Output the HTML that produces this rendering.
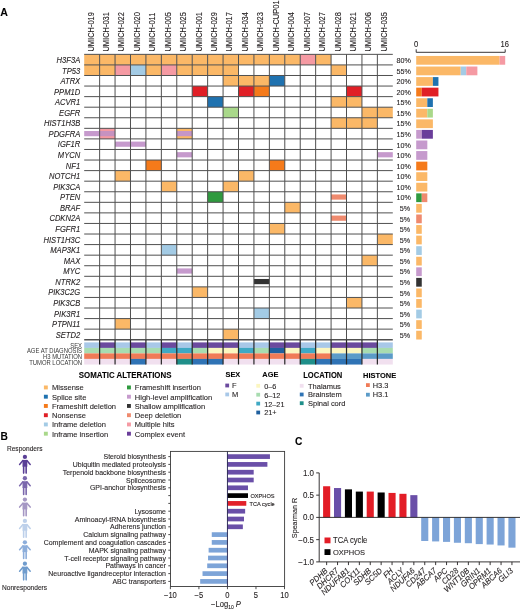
<!DOCTYPE html>
<html><head><meta charset="utf-8"><style>
html,body{margin:0;padding:0;background:#fff;width:520px;height:611px;overflow:hidden}
svg{display:block;filter:blur(0.3px)}
text{font-family:"Liberation Sans",sans-serif;stroke:#231f20;stroke-width:0.1px}
</style></head><body>
<svg width="520" height="611" viewBox="0 0 520 611">
<text transform="translate(0.30,15.90) scale(1,1.07)" font-size="10.6" text-anchor="start" fill="#000" font-weight="bold" >A</text>
<text transform="translate(93.62,51.6) rotate(-90) scale(1,1.12)" font-size="7.5" fill="#231f20">UMICH-019</text>
<text transform="translate(109.05,51.6) rotate(-90) scale(1,1.12)" font-size="7.5" fill="#231f20">UMICH-031</text>
<text transform="translate(124.48,51.6) rotate(-90) scale(1,1.12)" font-size="7.5" fill="#231f20">UMICH-022</text>
<text transform="translate(139.90,51.6) rotate(-90) scale(1,1.12)" font-size="7.5" fill="#231f20">UMICH-020</text>
<text transform="translate(155.33,51.6) rotate(-90) scale(1,1.12)" font-size="7.5" fill="#231f20">UMICH-011</text>
<text transform="translate(170.76,51.6) rotate(-90) scale(1,1.12)" font-size="7.5" fill="#231f20">UMICH-005</text>
<text transform="translate(186.19,51.6) rotate(-90) scale(1,1.12)" font-size="7.5" fill="#231f20">UMICH-025</text>
<text transform="translate(201.62,51.6) rotate(-90) scale(1,1.12)" font-size="7.5" fill="#231f20">UMICH-001</text>
<text transform="translate(217.06,51.6) rotate(-90) scale(1,1.12)" font-size="7.5" fill="#231f20">UMICH-029</text>
<text transform="translate(232.49,51.6) rotate(-90) scale(1,1.12)" font-size="7.5" fill="#231f20">UMICH-017</text>
<text transform="translate(247.91,51.6) rotate(-90) scale(1,1.12)" font-size="7.5" fill="#231f20">UMICH-034</text>
<text transform="translate(263.34,51.6) rotate(-90) scale(1,1.12)" font-size="7.5" fill="#231f20">UMICH-023</text>
<text transform="translate(278.77,51.6) rotate(-90) scale(1,1.12)" font-size="7.5" fill="#231f20">UMICH-CUP01</text>
<text transform="translate(294.20,51.6) rotate(-90) scale(1,1.12)" font-size="7.5" fill="#231f20">UMICH-004</text>
<text transform="translate(309.63,51.6) rotate(-90) scale(1,1.12)" font-size="7.5" fill="#231f20">UMICH-007</text>
<text transform="translate(325.06,51.6) rotate(-90) scale(1,1.12)" font-size="7.5" fill="#231f20">UMICH-027</text>
<text transform="translate(340.50,51.6) rotate(-90) scale(1,1.12)" font-size="7.5" fill="#231f20">UMICH-028</text>
<text transform="translate(355.92,51.6) rotate(-90) scale(1,1.12)" font-size="7.5" fill="#231f20">UMICH-021</text>
<text transform="translate(371.35,51.6) rotate(-90) scale(1,1.12)" font-size="7.5" fill="#231f20">UMICH-006</text>
<text transform="translate(386.78,51.6) rotate(-90) scale(1,1.12)" font-size="7.5" fill="#231f20">UMICH-035</text>
<text transform="translate(80.20,62.93) scale(1,1.07)" font-size="7.6" text-anchor="end" fill="#231f20" font-style="italic" >H3F3A</text>
<text transform="translate(411.00,63.03) scale(1,1.07)" font-size="7.2" text-anchor="end" fill="#231f20"  >80%</text>
<text transform="translate(80.20,73.50) scale(1,1.07)" font-size="7.6" text-anchor="end" fill="#231f20" font-style="italic" >TP53</text>
<text transform="translate(411.00,73.60) scale(1,1.07)" font-size="7.2" text-anchor="end" fill="#231f20"  >55%</text>
<text transform="translate(80.20,84.07) scale(1,1.07)" font-size="7.6" text-anchor="end" fill="#231f20" font-style="italic" >ATRX</text>
<text transform="translate(411.00,84.17) scale(1,1.07)" font-size="7.2" text-anchor="end" fill="#231f20"  >20%</text>
<text transform="translate(80.20,94.64) scale(1,1.07)" font-size="7.6" text-anchor="end" fill="#231f20" font-style="italic" >PPM1D</text>
<text transform="translate(411.00,94.74) scale(1,1.07)" font-size="7.2" text-anchor="end" fill="#231f20"  >20%</text>
<text transform="translate(80.20,105.21) scale(1,1.07)" font-size="7.6" text-anchor="end" fill="#231f20" font-style="italic" >ACVR1</text>
<text transform="translate(411.00,105.31) scale(1,1.07)" font-size="7.2" text-anchor="end" fill="#231f20"  >15%</text>
<text transform="translate(80.20,115.78) scale(1,1.07)" font-size="7.6" text-anchor="end" fill="#231f20" font-style="italic" >EGFR</text>
<text transform="translate(411.00,115.88) scale(1,1.07)" font-size="7.2" text-anchor="end" fill="#231f20"  >15%</text>
<text transform="translate(80.20,126.35) scale(1,1.07)" font-size="7.6" text-anchor="end" fill="#231f20" font-style="italic" >HIST1H3B</text>
<text transform="translate(411.00,126.45) scale(1,1.07)" font-size="7.2" text-anchor="end" fill="#231f20"  >15%</text>
<text transform="translate(80.20,136.92) scale(1,1.07)" font-size="7.6" text-anchor="end" fill="#231f20" font-style="italic" >PDGFRA</text>
<text transform="translate(411.00,137.02) scale(1,1.07)" font-size="7.2" text-anchor="end" fill="#231f20"  >15%</text>
<text transform="translate(80.20,147.49) scale(1,1.07)" font-size="7.6" text-anchor="end" fill="#231f20" font-style="italic" >IGF1R</text>
<text transform="translate(411.00,147.59) scale(1,1.07)" font-size="7.2" text-anchor="end" fill="#231f20"  >10%</text>
<text transform="translate(80.20,158.06) scale(1,1.07)" font-size="7.6" text-anchor="end" fill="#231f20" font-style="italic" >MYCN</text>
<text transform="translate(411.00,158.16) scale(1,1.07)" font-size="7.2" text-anchor="end" fill="#231f20"  >10%</text>
<text transform="translate(80.20,168.62) scale(1,1.07)" font-size="7.6" text-anchor="end" fill="#231f20" font-style="italic" >NF1</text>
<text transform="translate(411.00,168.72) scale(1,1.07)" font-size="7.2" text-anchor="end" fill="#231f20"  >10%</text>
<text transform="translate(80.20,179.19) scale(1,1.07)" font-size="7.6" text-anchor="end" fill="#231f20" font-style="italic" >NOTCH1</text>
<text transform="translate(411.00,179.29) scale(1,1.07)" font-size="7.2" text-anchor="end" fill="#231f20"  >10%</text>
<text transform="translate(80.20,189.76) scale(1,1.07)" font-size="7.6" text-anchor="end" fill="#231f20" font-style="italic" >PIK3CA</text>
<text transform="translate(411.00,189.86) scale(1,1.07)" font-size="7.2" text-anchor="end" fill="#231f20"  >10%</text>
<text transform="translate(80.20,200.33) scale(1,1.07)" font-size="7.6" text-anchor="end" fill="#231f20" font-style="italic" >PTEN</text>
<text transform="translate(411.00,200.43) scale(1,1.07)" font-size="7.2" text-anchor="end" fill="#231f20"  >10%</text>
<text transform="translate(80.20,210.90) scale(1,1.07)" font-size="7.6" text-anchor="end" fill="#231f20" font-style="italic" >BRAF</text>
<text transform="translate(410.20,211.00) scale(1,1.07)" font-size="7.2" text-anchor="end" fill="#231f20"  >5%</text>
<text transform="translate(80.20,221.47) scale(1,1.07)" font-size="7.6" text-anchor="end" fill="#231f20" font-style="italic" >CDKN2A</text>
<text transform="translate(410.20,221.57) scale(1,1.07)" font-size="7.2" text-anchor="end" fill="#231f20"  >5%</text>
<text transform="translate(80.20,232.04) scale(1,1.07)" font-size="7.6" text-anchor="end" fill="#231f20" font-style="italic" >FGFR1</text>
<text transform="translate(410.20,232.14) scale(1,1.07)" font-size="7.2" text-anchor="end" fill="#231f20"  >5%</text>
<text transform="translate(80.20,242.61) scale(1,1.07)" font-size="7.6" text-anchor="end" fill="#231f20" font-style="italic" >HIST1H3C</text>
<text transform="translate(410.20,242.71) scale(1,1.07)" font-size="7.2" text-anchor="end" fill="#231f20"  >5%</text>
<text transform="translate(80.20,253.18) scale(1,1.07)" font-size="7.6" text-anchor="end" fill="#231f20" font-style="italic" >MAP3K1</text>
<text transform="translate(410.20,253.28) scale(1,1.07)" font-size="7.2" text-anchor="end" fill="#231f20"  >5%</text>
<text transform="translate(80.20,263.75) scale(1,1.07)" font-size="7.6" text-anchor="end" fill="#231f20" font-style="italic" >MAX</text>
<text transform="translate(410.20,263.85) scale(1,1.07)" font-size="7.2" text-anchor="end" fill="#231f20"  >5%</text>
<text transform="translate(80.20,274.31) scale(1,1.07)" font-size="7.6" text-anchor="end" fill="#231f20" font-style="italic" >MYC</text>
<text transform="translate(410.20,274.41) scale(1,1.07)" font-size="7.2" text-anchor="end" fill="#231f20"  >5%</text>
<text transform="translate(80.20,284.88) scale(1,1.07)" font-size="7.6" text-anchor="end" fill="#231f20" font-style="italic" >NTRK2</text>
<text transform="translate(410.20,284.98) scale(1,1.07)" font-size="7.2" text-anchor="end" fill="#231f20"  >5%</text>
<text transform="translate(80.20,295.45) scale(1,1.07)" font-size="7.6" text-anchor="end" fill="#231f20" font-style="italic" >PIK3C2G</text>
<text transform="translate(410.20,295.55) scale(1,1.07)" font-size="7.2" text-anchor="end" fill="#231f20"  >5%</text>
<text transform="translate(80.20,306.02) scale(1,1.07)" font-size="7.6" text-anchor="end" fill="#231f20" font-style="italic" >PIK3CB</text>
<text transform="translate(410.20,306.12) scale(1,1.07)" font-size="7.2" text-anchor="end" fill="#231f20"  >5%</text>
<text transform="translate(80.20,316.59) scale(1,1.07)" font-size="7.6" text-anchor="end" fill="#231f20" font-style="italic" >PIK3R1</text>
<text transform="translate(410.20,316.69) scale(1,1.07)" font-size="7.2" text-anchor="end" fill="#231f20"  >5%</text>
<text transform="translate(80.20,327.16) scale(1,1.07)" font-size="7.6" text-anchor="end" fill="#231f20" font-style="italic" >PTPN11</text>
<text transform="translate(410.20,327.26) scale(1,1.07)" font-size="7.2" text-anchor="end" fill="#231f20"  >5%</text>
<text transform="translate(80.20,337.73) scale(1,1.07)" font-size="7.6" text-anchor="end" fill="#231f20" font-style="italic" >SETD2</text>
<text transform="translate(410.20,337.83) scale(1,1.07)" font-size="7.2" text-anchor="end" fill="#231f20"  >5%</text>
<rect x="84.20" y="54.35" width="308.60" height="285.36" fill="#fff" />
<rect x="84.20" y="54.35" width="15.43" height="10.57" fill="#fbb867" />
<rect x="99.63" y="54.35" width="15.43" height="10.57" fill="#fbb867" />
<rect x="115.06" y="54.35" width="15.43" height="10.57" fill="#fbb867" />
<rect x="130.49" y="54.35" width="15.43" height="10.57" fill="#fbb867" />
<rect x="145.92" y="54.35" width="15.43" height="10.57" fill="#fbb867" />
<rect x="161.35" y="54.35" width="15.43" height="10.57" fill="#fbb867" />
<rect x="176.78" y="54.35" width="15.43" height="10.57" fill="#fbb867" />
<rect x="192.21" y="54.35" width="15.43" height="10.57" fill="#fbb867" />
<rect x="207.64" y="54.35" width="15.43" height="10.57" fill="#fbb867" />
<rect x="223.07" y="54.35" width="15.43" height="10.57" fill="#fbb867" />
<rect x="238.50" y="54.35" width="15.43" height="10.57" fill="#fbb867" />
<rect x="253.93" y="54.35" width="15.43" height="10.57" fill="#fbb867" />
<rect x="269.36" y="54.35" width="15.43" height="10.57" fill="#fbb867" />
<rect x="284.79" y="54.35" width="15.43" height="10.57" fill="#fbb867" />
<rect x="300.22" y="54.35" width="15.43" height="10.57" fill="#f59aa3" />
<rect x="315.65" y="54.35" width="15.43" height="10.57" fill="#fbb867" />
<rect x="84.20" y="64.92" width="15.43" height="10.57" fill="#fbb867" />
<rect x="99.63" y="64.92" width="15.43" height="10.57" fill="#fbb867" />
<rect x="145.92" y="64.92" width="15.43" height="10.57" fill="#fbb867" />
<rect x="176.78" y="64.92" width="15.43" height="10.57" fill="#fbb867" />
<rect x="192.21" y="64.92" width="15.43" height="10.57" fill="#fbb867" />
<rect x="207.64" y="64.92" width="15.43" height="10.57" fill="#fbb867" />
<rect x="223.07" y="64.92" width="15.43" height="10.57" fill="#fbb867" />
<rect x="331.08" y="64.92" width="15.43" height="10.57" fill="#fbb867" />
<rect x="115.06" y="64.92" width="15.43" height="10.57" fill="#f59aa3" />
<rect x="161.35" y="64.92" width="15.43" height="10.57" fill="#f59aa3" />
<rect x="130.49" y="64.92" width="15.43" height="10.57" fill="#a3cbe5" />
<rect x="223.07" y="75.49" width="15.43" height="10.57" fill="#fbb867" />
<rect x="238.50" y="75.49" width="15.43" height="10.57" fill="#fbb867" />
<rect x="253.93" y="75.49" width="15.43" height="10.57" fill="#fbb867" />
<rect x="269.36" y="75.49" width="15.43" height="10.57" fill="#1f72b0" />
<rect x="192.21" y="86.06" width="15.43" height="10.57" fill="#e01f26" />
<rect x="238.50" y="86.06" width="15.43" height="10.57" fill="#e01f26" />
<rect x="253.93" y="86.06" width="15.43" height="10.57" fill="#f57a1a" />
<rect x="346.51" y="86.06" width="15.43" height="10.57" fill="#e01f26" />
<rect x="207.64" y="96.63" width="15.43" height="10.57" fill="#1f72b0" />
<rect x="331.08" y="96.63" width="15.43" height="10.57" fill="#fbb867" />
<rect x="346.51" y="96.63" width="15.43" height="10.57" fill="#fbb867" />
<rect x="223.07" y="107.20" width="15.43" height="10.57" fill="#a9d88a" />
<rect x="361.94" y="107.20" width="15.43" height="10.57" fill="#fbb867" />
<rect x="377.37" y="107.20" width="15.43" height="10.57" fill="#fbb867" />
<rect x="331.08" y="117.76" width="15.43" height="10.57" fill="#fbb867" />
<rect x="346.51" y="117.76" width="15.43" height="10.57" fill="#fbb867" />
<rect x="361.94" y="117.76" width="15.43" height="10.57" fill="#fbb867" />
<rect x="99.63" y="128.33" width="15.43" height="10.57" fill="#f59aa3" />
<rect x="176.78" y="128.33" width="15.43" height="10.57" fill="#fbb867" />
<rect x="145.92" y="160.04" width="15.43" height="10.57" fill="#f57a1a" />
<rect x="269.36" y="160.04" width="15.43" height="10.57" fill="#f57a1a" />
<rect x="115.06" y="170.61" width="15.43" height="10.57" fill="#fbb867" />
<rect x="238.50" y="170.61" width="15.43" height="10.57" fill="#fbb867" />
<rect x="161.35" y="181.18" width="15.43" height="10.57" fill="#fbb867" />
<rect x="223.07" y="181.18" width="15.43" height="10.57" fill="#fbb867" />
<rect x="207.64" y="191.75" width="15.43" height="10.57" fill="#2f9a3f" />
<rect x="284.79" y="202.32" width="15.43" height="10.57" fill="#fbb867" />
<rect x="269.36" y="223.45" width="15.43" height="10.57" fill="#fbb867" />
<rect x="377.37" y="234.02" width="15.43" height="10.57" fill="#fbb867" />
<rect x="161.35" y="244.59" width="15.43" height="10.57" fill="#a3cbe5" />
<rect x="361.94" y="255.16" width="15.43" height="10.57" fill="#fbb867" />
<rect x="192.21" y="286.87" width="15.43" height="10.57" fill="#fbb867" />
<rect x="346.51" y="297.44" width="15.43" height="10.57" fill="#fbb867" />
<rect x="253.93" y="308.01" width="15.43" height="10.57" fill="#a3cbe5" />
<rect x="115.06" y="318.58" width="15.43" height="10.57" fill="#fbb867" />
<rect x="223.07" y="329.14" width="15.43" height="10.57" fill="#fbb867" />
<rect x="84.20" y="131.02" width="15.43" height="5.20" fill="#c69acd" />
<rect x="99.63" y="131.02" width="15.43" height="5.20" fill="#c792c0" />
<rect x="176.78" y="131.02" width="15.43" height="5.20" fill="#c596c6" />
<rect x="115.06" y="141.59" width="15.43" height="5.20" fill="#c69acd" />
<rect x="130.49" y="141.59" width="15.43" height="5.20" fill="#c69acd" />
<rect x="176.78" y="152.16" width="15.43" height="5.20" fill="#c69acd" />
<rect x="377.37" y="152.16" width="15.43" height="5.20" fill="#c69acd" />
<rect x="331.08" y="194.43" width="15.43" height="5.20" fill="#ef8a6e" />
<rect x="331.08" y="215.57" width="15.43" height="5.20" fill="#ef8a6e" />
<rect x="176.78" y="268.41" width="15.43" height="5.20" fill="#c69acd" />
<rect x="253.93" y="278.98" width="15.43" height="5.20" fill="#333333" />
<line x1="84.20" y1="54.35" x2="392.80" y2="54.35" stroke="#505050" stroke-width="1.0"/>
<line x1="84.20" y1="64.92" x2="392.80" y2="64.92" stroke="#505050" stroke-width="1.0"/>
<line x1="84.20" y1="75.49" x2="392.80" y2="75.49" stroke="#505050" stroke-width="1.0"/>
<line x1="84.20" y1="86.06" x2="392.80" y2="86.06" stroke="#505050" stroke-width="1.0"/>
<line x1="84.20" y1="96.63" x2="392.80" y2="96.63" stroke="#505050" stroke-width="1.0"/>
<line x1="84.20" y1="107.20" x2="392.80" y2="107.20" stroke="#505050" stroke-width="1.0"/>
<line x1="84.20" y1="117.76" x2="392.80" y2="117.76" stroke="#505050" stroke-width="1.0"/>
<line x1="84.20" y1="128.33" x2="392.80" y2="128.33" stroke="#505050" stroke-width="1.0"/>
<line x1="84.20" y1="138.90" x2="392.80" y2="138.90" stroke="#505050" stroke-width="1.0"/>
<line x1="84.20" y1="149.47" x2="392.80" y2="149.47" stroke="#505050" stroke-width="1.0"/>
<line x1="84.20" y1="160.04" x2="392.80" y2="160.04" stroke="#505050" stroke-width="1.0"/>
<line x1="84.20" y1="170.61" x2="392.80" y2="170.61" stroke="#505050" stroke-width="1.0"/>
<line x1="84.20" y1="181.18" x2="392.80" y2="181.18" stroke="#505050" stroke-width="1.0"/>
<line x1="84.20" y1="191.75" x2="392.80" y2="191.75" stroke="#505050" stroke-width="1.0"/>
<line x1="84.20" y1="202.32" x2="392.80" y2="202.32" stroke="#505050" stroke-width="1.0"/>
<line x1="84.20" y1="212.89" x2="392.80" y2="212.89" stroke="#505050" stroke-width="1.0"/>
<line x1="84.20" y1="223.45" x2="392.80" y2="223.45" stroke="#505050" stroke-width="1.0"/>
<line x1="84.20" y1="234.02" x2="392.80" y2="234.02" stroke="#505050" stroke-width="1.0"/>
<line x1="84.20" y1="244.59" x2="392.80" y2="244.59" stroke="#505050" stroke-width="1.0"/>
<line x1="84.20" y1="255.16" x2="392.80" y2="255.16" stroke="#505050" stroke-width="1.0"/>
<line x1="84.20" y1="265.73" x2="392.80" y2="265.73" stroke="#505050" stroke-width="1.0"/>
<line x1="84.20" y1="276.30" x2="392.80" y2="276.30" stroke="#505050" stroke-width="1.0"/>
<line x1="84.20" y1="286.87" x2="392.80" y2="286.87" stroke="#505050" stroke-width="1.0"/>
<line x1="84.20" y1="297.44" x2="392.80" y2="297.44" stroke="#505050" stroke-width="1.0"/>
<line x1="84.20" y1="308.01" x2="392.80" y2="308.01" stroke="#505050" stroke-width="1.0"/>
<line x1="84.20" y1="318.58" x2="392.80" y2="318.58" stroke="#505050" stroke-width="1.0"/>
<line x1="84.20" y1="329.14" x2="392.80" y2="329.14" stroke="#505050" stroke-width="1.0"/>
<line x1="84.20" y1="339.71" x2="392.80" y2="339.71" stroke="#505050" stroke-width="1.5"/>
<line x1="99.63" y1="54.35" x2="99.63" y2="339.71" stroke="#505050" stroke-width="1.0"/>
<line x1="115.06" y1="54.35" x2="115.06" y2="339.71" stroke="#505050" stroke-width="1.0"/>
<line x1="130.49" y1="54.35" x2="130.49" y2="339.71" stroke="#505050" stroke-width="1.0"/>
<line x1="145.92" y1="54.35" x2="145.92" y2="339.71" stroke="#505050" stroke-width="1.0"/>
<line x1="161.35" y1="54.35" x2="161.35" y2="339.71" stroke="#505050" stroke-width="1.0"/>
<line x1="176.78" y1="54.35" x2="176.78" y2="339.71" stroke="#505050" stroke-width="1.0"/>
<line x1="192.21" y1="54.35" x2="192.21" y2="339.71" stroke="#505050" stroke-width="1.0"/>
<line x1="207.64" y1="54.35" x2="207.64" y2="339.71" stroke="#505050" stroke-width="1.0"/>
<line x1="223.07" y1="54.35" x2="223.07" y2="339.71" stroke="#505050" stroke-width="1.0"/>
<line x1="238.50" y1="54.35" x2="238.50" y2="339.71" stroke="#505050" stroke-width="1.0"/>
<line x1="253.93" y1="54.35" x2="253.93" y2="339.71" stroke="#505050" stroke-width="1.0"/>
<line x1="269.36" y1="54.35" x2="269.36" y2="339.71" stroke="#505050" stroke-width="1.0"/>
<line x1="284.79" y1="54.35" x2="284.79" y2="339.71" stroke="#505050" stroke-width="1.0"/>
<line x1="300.22" y1="54.35" x2="300.22" y2="339.71" stroke="#505050" stroke-width="1.0"/>
<line x1="315.65" y1="54.35" x2="315.65" y2="339.71" stroke="#505050" stroke-width="1.0"/>
<line x1="331.08" y1="54.35" x2="331.08" y2="339.71" stroke="#505050" stroke-width="1.0"/>
<line x1="346.51" y1="54.35" x2="346.51" y2="339.71" stroke="#505050" stroke-width="1.0"/>
<line x1="361.94" y1="54.35" x2="361.94" y2="339.71" stroke="#505050" stroke-width="1.0"/>
<line x1="377.37" y1="54.35" x2="377.37" y2="339.71" stroke="#505050" stroke-width="1.0"/>
<rect x="84.20" y="342.40" width="15.43" height="5.55" fill="#a8c8e8" />
<rect x="84.20" y="347.90" width="15.43" height="5.55" fill="#a8dcb0" />
<rect x="84.20" y="353.40" width="15.43" height="5.55" fill="#f07b57" />
<rect x="84.20" y="358.90" width="15.43" height="5.65" fill="#f1e0ef" />
<rect x="99.63" y="342.40" width="15.43" height="5.55" fill="#6b4a9e" />
<rect x="99.63" y="347.90" width="15.43" height="5.55" fill="#a8dcb0" />
<rect x="99.63" y="353.40" width="15.43" height="5.55" fill="#f07b57" />
<rect x="99.63" y="358.90" width="15.43" height="5.65" fill="#f1e0ef" />
<rect x="115.06" y="342.40" width="15.43" height="5.55" fill="#a8c8e8" />
<rect x="115.06" y="347.90" width="15.43" height="5.55" fill="#a8dcb0" />
<rect x="115.06" y="353.40" width="15.43" height="5.55" fill="#f07b57" />
<rect x="115.06" y="358.90" width="15.43" height="5.65" fill="#f1e0ef" />
<rect x="130.49" y="342.40" width="15.43" height="5.55" fill="#6b4a9e" />
<rect x="130.49" y="347.90" width="15.43" height="5.55" fill="#a8dcb0" />
<rect x="130.49" y="353.40" width="15.43" height="5.55" fill="#f07b57" />
<rect x="130.49" y="358.90" width="15.43" height="5.65" fill="#2f73b5" />
<rect x="145.92" y="342.40" width="15.43" height="5.55" fill="#a8c8e8" />
<rect x="145.92" y="347.90" width="15.43" height="5.55" fill="#a8dcb0" />
<rect x="145.92" y="353.40" width="15.43" height="5.55" fill="#f07b57" />
<rect x="145.92" y="358.90" width="15.43" height="5.65" fill="#f1e0ef" />
<rect x="161.35" y="342.40" width="15.43" height="5.55" fill="#6b4a9e" />
<rect x="161.35" y="347.90" width="15.43" height="5.55" fill="#3fa9c4" />
<rect x="161.35" y="353.40" width="15.43" height="5.55" fill="#f07b57" />
<rect x="161.35" y="358.90" width="15.43" height="5.65" fill="#f1e0ef" />
<rect x="176.78" y="342.40" width="15.43" height="5.55" fill="#a8c8e8" />
<rect x="176.78" y="347.90" width="15.43" height="5.55" fill="#3fa9c4" />
<rect x="176.78" y="353.40" width="15.43" height="5.55" fill="#f07b57" />
<rect x="176.78" y="358.90" width="15.43" height="5.65" fill="#1f8f8a" />
<rect x="192.21" y="342.40" width="15.43" height="5.55" fill="#6b4a9e" />
<rect x="192.21" y="347.90" width="15.43" height="5.55" fill="#a8dcb0" />
<rect x="192.21" y="353.40" width="15.43" height="5.55" fill="#f07b57" />
<rect x="192.21" y="358.90" width="15.43" height="5.65" fill="#2f73b5" />
<rect x="207.64" y="342.40" width="15.43" height="5.55" fill="#6b4a9e" />
<rect x="207.64" y="347.90" width="15.43" height="5.55" fill="#fbf6c0" />
<rect x="207.64" y="353.40" width="15.43" height="5.55" fill="#f07b57" />
<rect x="207.64" y="358.90" width="15.43" height="5.65" fill="#2f73b5" />
<rect x="223.07" y="342.40" width="15.43" height="5.55" fill="#6b4a9e" />
<rect x="223.07" y="347.90" width="15.43" height="5.55" fill="#fbf6c0" />
<rect x="223.07" y="353.40" width="15.43" height="5.55" fill="#f07b57" />
<rect x="223.07" y="358.90" width="15.43" height="5.65" fill="#f1e0ef" />
<rect x="238.50" y="342.40" width="15.43" height="5.55" fill="#a8c8e8" />
<rect x="238.50" y="347.90" width="15.43" height="5.55" fill="#3fa9c4" />
<rect x="238.50" y="353.40" width="15.43" height="5.55" fill="#f07b57" />
<rect x="238.50" y="358.90" width="15.43" height="5.65" fill="#f1e0ef" />
<rect x="253.93" y="342.40" width="15.43" height="5.55" fill="#a8c8e8" />
<rect x="253.93" y="347.90" width="15.43" height="5.55" fill="#a8dcb0" />
<rect x="253.93" y="353.40" width="15.43" height="5.55" fill="#f07b57" />
<rect x="253.93" y="358.90" width="15.43" height="5.65" fill="#f1e0ef" />
<rect x="269.36" y="342.40" width="15.43" height="5.55" fill="#6b4a9e" />
<rect x="269.36" y="347.90" width="15.43" height="5.55" fill="#1f5f9e" />
<rect x="269.36" y="353.40" width="15.43" height="5.55" fill="#f07b57" />
<rect x="269.36" y="358.90" width="15.43" height="5.65" fill="#f1e0ef" />
<rect x="284.79" y="342.40" width="15.43" height="5.55" fill="#6b4a9e" />
<rect x="284.79" y="347.90" width="15.43" height="5.55" fill="#fbf6c0" />
<rect x="284.79" y="353.40" width="15.43" height="5.55" fill="#f07b57" />
<rect x="284.79" y="358.90" width="15.43" height="5.65" fill="#f1e0ef" />
<rect x="300.22" y="342.40" width="15.43" height="5.55" fill="#a8c8e8" />
<rect x="300.22" y="347.90" width="15.43" height="5.55" fill="#3fa9c4" />
<rect x="300.22" y="353.40" width="15.43" height="5.55" fill="#f07b57" />
<rect x="300.22" y="358.90" width="15.43" height="5.65" fill="#1f8f8a" />
<rect x="315.65" y="342.40" width="15.43" height="5.55" fill="#a8c8e8" />
<rect x="315.65" y="347.90" width="15.43" height="5.55" fill="#fbf6c0" />
<rect x="315.65" y="353.40" width="15.43" height="5.55" fill="#f07b57" />
<rect x="315.65" y="358.90" width="15.43" height="5.65" fill="#2f73b5" />
<rect x="331.08" y="342.40" width="15.43" height="5.55" fill="#6b4a9e" />
<rect x="331.08" y="347.90" width="15.43" height="5.55" fill="#fbf6c0" />
<rect x="331.08" y="353.40" width="15.43" height="5.55" fill="#5b9bc8" />
<rect x="331.08" y="358.90" width="15.43" height="5.65" fill="#2f73b5" />
<rect x="346.51" y="342.40" width="15.43" height="5.55" fill="#6b4a9e" />
<rect x="346.51" y="347.90" width="15.43" height="5.55" fill="#fbf6c0" />
<rect x="346.51" y="353.40" width="15.43" height="5.55" fill="#5b9bc8" />
<rect x="346.51" y="358.90" width="15.43" height="5.65" fill="#2f73b5" />
<rect x="361.94" y="342.40" width="15.43" height="5.55" fill="#6b4a9e" />
<rect x="361.94" y="347.90" width="15.43" height="5.55" fill="#a8dcb0" />
<rect x="361.94" y="353.40" width="15.43" height="5.55" fill="#5b9bc8" />
<rect x="361.94" y="358.90" width="15.43" height="5.65" fill="#f1e0ef" />
<rect x="377.37" y="342.40" width="15.43" height="5.55" fill="#a8c8e8" />
<rect x="377.37" y="347.90" width="15.43" height="5.55" fill="#a8dcb0" />
<rect x="377.37" y="353.40" width="15.43" height="5.55" fill="#5b9bc8" />
<rect x="377.37" y="358.90" width="15.43" height="5.65" fill="#f1e0ef" />
<line x1="99.63" y1="339.71" x2="99.63" y2="364.50" stroke="#262626" stroke-width="1.2"/>
<line x1="115.06" y1="339.71" x2="115.06" y2="364.50" stroke="#262626" stroke-width="1.2"/>
<line x1="130.49" y1="339.71" x2="130.49" y2="364.50" stroke="#262626" stroke-width="1.2"/>
<line x1="145.92" y1="339.71" x2="145.92" y2="364.50" stroke="#262626" stroke-width="1.2"/>
<line x1="161.35" y1="339.71" x2="161.35" y2="364.50" stroke="#262626" stroke-width="1.2"/>
<line x1="176.78" y1="339.71" x2="176.78" y2="364.50" stroke="#262626" stroke-width="1.2"/>
<line x1="192.21" y1="339.71" x2="192.21" y2="364.50" stroke="#262626" stroke-width="1.2"/>
<line x1="207.64" y1="339.71" x2="207.64" y2="364.50" stroke="#262626" stroke-width="1.2"/>
<line x1="223.07" y1="339.71" x2="223.07" y2="364.50" stroke="#262626" stroke-width="1.2"/>
<line x1="238.50" y1="339.71" x2="238.50" y2="364.50" stroke="#262626" stroke-width="1.2"/>
<line x1="253.93" y1="339.71" x2="253.93" y2="364.50" stroke="#262626" stroke-width="1.2"/>
<line x1="269.36" y1="339.71" x2="269.36" y2="364.50" stroke="#262626" stroke-width="1.2"/>
<line x1="284.79" y1="339.71" x2="284.79" y2="364.50" stroke="#262626" stroke-width="1.2"/>
<line x1="300.22" y1="339.71" x2="300.22" y2="364.50" stroke="#262626" stroke-width="1.2"/>
<line x1="315.65" y1="339.71" x2="315.65" y2="364.50" stroke="#262626" stroke-width="1.2"/>
<line x1="331.08" y1="339.71" x2="331.08" y2="364.50" stroke="#262626" stroke-width="1.2"/>
<line x1="346.51" y1="339.71" x2="346.51" y2="364.50" stroke="#262626" stroke-width="1.2"/>
<line x1="361.94" y1="339.71" x2="361.94" y2="364.50" stroke="#262626" stroke-width="1.2"/>
<line x1="377.37" y1="339.71" x2="377.37" y2="364.50" stroke="#262626" stroke-width="1.2"/>
<text transform="translate(82.00,347.60) scale(1,1.07)" font-size="5.9" text-anchor="end" fill="#3a3a3a"  style="stroke-width:0">SEX</text>
<text transform="translate(82.00,353.43) scale(1,1.07)" font-size="5.9" text-anchor="end" fill="#3a3a3a"  style="stroke-width:0">AGE AT DIAGNOSIS</text>
<text transform="translate(82.00,359.26) scale(1,1.07)" font-size="5.9" text-anchor="end" fill="#3a3a3a"  style="stroke-width:0">H3 MUTATION</text>
<text transform="translate(82.00,365.09) scale(1,1.07)" font-size="5.9" text-anchor="end" fill="#3a3a3a"  style="stroke-width:0">TUMOR LOCATION</text>
<line x1="416.20" y1="52.30" x2="505.20" y2="52.30" stroke="#231f20" stroke-width="0.9"/>
<line x1="416.20" y1="49.30" x2="416.20" y2="52.30" stroke="#231f20" stroke-width="0.9"/>
<line x1="505.20" y1="49.30" x2="505.20" y2="52.30" stroke="#231f20" stroke-width="0.9"/>
<text transform="translate(416.20,47.30) scale(1,1.07)" font-size="7.6" text-anchor="middle" fill="#231f20"  >0</text>
<text transform="translate(504.70,47.30) scale(1,1.07)" font-size="7.6" text-anchor="middle" fill="#231f20"  >16</text>
<rect x="416.20" y="55.95" width="83.44" height="8.77" fill="#fbb867" />
<rect x="499.64" y="55.95" width="5.56" height="8.77" fill="#f59aa3" />
<rect x="416.20" y="66.52" width="44.50" height="8.77" fill="#fbb867" />
<rect x="460.70" y="66.52" width="5.56" height="8.77" fill="#a3cbe5" />
<rect x="466.26" y="66.52" width="11.12" height="8.77" fill="#f59aa3" />
<rect x="416.20" y="77.09" width="16.69" height="8.77" fill="#fbb867" />
<rect x="432.89" y="77.09" width="5.56" height="8.77" fill="#1f72b0" />
<rect x="416.20" y="87.66" width="5.56" height="8.77" fill="#f57a1a" />
<rect x="421.76" y="87.66" width="16.69" height="8.77" fill="#e01f26" />
<rect x="416.20" y="98.23" width="11.12" height="8.77" fill="#fbb867" />
<rect x="427.32" y="98.23" width="5.56" height="8.77" fill="#1f72b0" />
<rect x="416.20" y="108.80" width="11.12" height="8.77" fill="#fbb867" />
<rect x="427.32" y="108.80" width="5.56" height="8.77" fill="#a9d88a" />
<rect x="416.20" y="119.36" width="16.69" height="8.77" fill="#fbb867" />
<rect x="416.20" y="129.93" width="5.56" height="8.77" fill="#c69acd" />
<rect x="421.76" y="129.93" width="11.12" height="8.77" fill="#6a3d9a" />
<rect x="416.20" y="140.50" width="11.12" height="8.77" fill="#c69acd" />
<rect x="416.20" y="151.07" width="11.12" height="8.77" fill="#c69acd" />
<rect x="416.20" y="161.64" width="11.12" height="8.77" fill="#f57a1a" />
<rect x="416.20" y="172.21" width="11.12" height="8.77" fill="#fbb867" />
<rect x="416.20" y="182.78" width="11.12" height="8.77" fill="#fbb867" />
<rect x="416.20" y="193.35" width="5.56" height="8.77" fill="#2f9a3f" />
<rect x="421.76" y="193.35" width="5.56" height="8.77" fill="#ef8a6e" />
<rect x="416.20" y="203.92" width="5.56" height="8.77" fill="#fbb867" />
<rect x="416.20" y="214.49" width="5.56" height="8.77" fill="#ef8a6e" />
<rect x="416.20" y="225.05" width="5.56" height="8.77" fill="#fbb867" />
<rect x="416.20" y="235.62" width="5.56" height="8.77" fill="#fbb867" />
<rect x="416.20" y="246.19" width="5.56" height="8.77" fill="#a3cbe5" />
<rect x="416.20" y="256.76" width="5.56" height="8.77" fill="#fbb867" />
<rect x="416.20" y="267.33" width="5.56" height="8.77" fill="#c69acd" />
<rect x="416.20" y="277.90" width="5.56" height="8.77" fill="#333333" />
<rect x="416.20" y="288.47" width="5.56" height="8.77" fill="#fbb867" />
<rect x="416.20" y="299.04" width="5.56" height="8.77" fill="#fbb867" />
<rect x="416.20" y="309.61" width="5.56" height="8.77" fill="#a3cbe5" />
<rect x="416.20" y="320.18" width="5.56" height="8.77" fill="#fbb867" />
<rect x="416.20" y="330.74" width="5.56" height="8.77" fill="#fbb867" />
<text transform="translate(78.80,377.60) scale(1,1.07)" font-size="7.9" text-anchor="start" fill="#000" font-weight="bold" >SOMATIC ALTERATIONS</text>
<rect x="43.90" y="385.50" width="3.90" height="3.90" fill="#fbb867" />
<text transform="translate(52.00,390.30) scale(1,1.07)" font-size="7.55" text-anchor="start" fill="#231f20"  >Missense</text>
<rect x="43.90" y="394.75" width="3.90" height="3.90" fill="#1f72b0" />
<text transform="translate(52.00,399.55) scale(1,1.07)" font-size="7.55" text-anchor="start" fill="#231f20"  >Splice site</text>
<rect x="43.90" y="404.00" width="3.90" height="3.90" fill="#f57a1a" />
<text transform="translate(52.00,408.80) scale(1,1.07)" font-size="7.55" text-anchor="start" fill="#231f20"  >Frameshift deletion</text>
<rect x="43.90" y="413.25" width="3.90" height="3.90" fill="#e01f26" />
<text transform="translate(52.00,418.05) scale(1,1.07)" font-size="7.55" text-anchor="start" fill="#231f20"  >Nonsense</text>
<rect x="43.90" y="422.50" width="3.90" height="3.90" fill="#a3cbe5" />
<text transform="translate(52.00,427.30) scale(1,1.07)" font-size="7.55" text-anchor="start" fill="#231f20"  >Inframe deletion</text>
<rect x="43.90" y="431.75" width="3.90" height="3.90" fill="#a9d88a" />
<text transform="translate(52.00,436.55) scale(1,1.07)" font-size="7.55" text-anchor="start" fill="#231f20"  >Inframe insertion</text>
<rect x="127.00" y="385.50" width="3.90" height="3.90" fill="#2f9a3f" />
<text transform="translate(134.80,390.30) scale(1,1.07)" font-size="7.55" text-anchor="start" fill="#231f20"  >Frameshift insertion</text>
<rect x="127.00" y="394.75" width="3.90" height="3.90" fill="#c69acd" />
<text transform="translate(134.80,399.55) scale(1,1.07)" font-size="7.55" text-anchor="start" fill="#231f20"  >High-level amplification</text>
<rect x="127.00" y="404.00" width="3.90" height="3.90" fill="#333333" />
<text transform="translate(134.80,408.80) scale(1,1.07)" font-size="7.55" text-anchor="start" fill="#231f20"  >Shallow amplification</text>
<rect x="127.00" y="413.25" width="3.90" height="3.90" fill="#ef8a6e" />
<text transform="translate(134.80,418.05) scale(1,1.07)" font-size="7.55" text-anchor="start" fill="#231f20"  >Deep deletion</text>
<rect x="127.00" y="422.50" width="3.90" height="3.90" fill="#f59aa3" />
<text transform="translate(134.80,427.30) scale(1,1.07)" font-size="7.55" text-anchor="start" fill="#231f20"  >Multiple hits</text>
<rect x="127.00" y="431.75" width="3.90" height="3.90" fill="#6a3d9a" />
<text transform="translate(134.80,436.55) scale(1,1.07)" font-size="7.55" text-anchor="start" fill="#231f20"  >Complex event</text>
<text transform="translate(225.50,377.40) scale(1,1.07)" font-size="7.4" text-anchor="start" fill="#000" font-weight="bold" >SEX</text>
<rect x="225.30" y="383.60" width="3.80" height="3.80" fill="#6b4a9e" />
<text transform="translate(232.10,388.40) scale(1,1.07)" font-size="7.5" text-anchor="start" fill="#231f20"  >F</text>
<rect x="225.30" y="392.55" width="3.80" height="3.80" fill="#a8c8e8" />
<text transform="translate(232.10,397.35) scale(1,1.07)" font-size="7.5" text-anchor="start" fill="#231f20"  >M</text>
<text transform="translate(262.30,377.40) scale(1,1.07)" font-size="7.4" text-anchor="start" fill="#000" font-weight="bold" >AGE</text>
<rect x="256.30" y="383.90" width="3.80" height="3.80" fill="#fbf6c0" />
<text transform="translate(264.20,388.70) scale(1,1.07)" font-size="7.3" text-anchor="start" fill="#231f20"  >0–6</text>
<rect x="256.30" y="392.80" width="3.80" height="3.80" fill="#a8dcb0" />
<text transform="translate(264.20,397.60) scale(1,1.07)" font-size="7.3" text-anchor="start" fill="#231f20"  >6–12</text>
<rect x="256.30" y="401.70" width="3.80" height="3.80" fill="#3fa9c4" />
<text transform="translate(264.20,406.50) scale(1,1.07)" font-size="7.3" text-anchor="start" fill="#231f20"  >12–21</text>
<rect x="256.30" y="410.60" width="3.80" height="3.80" fill="#1f5f9e" />
<text transform="translate(264.20,415.40) scale(1,1.07)" font-size="7.3" text-anchor="start" fill="#231f20"  >21+</text>
<text transform="translate(303.20,377.50) scale(1,1.07)" font-size="7.6" text-anchor="start" fill="#000" font-weight="bold" >LOCATION</text>
<rect x="299.80" y="383.90" width="3.80" height="3.80" fill="#f1e0ef" />
<text transform="translate(308.00,388.70) scale(1,1.07)" font-size="7.5" text-anchor="start" fill="#231f20"  >Thalamus</text>
<rect x="299.80" y="392.60" width="3.80" height="3.80" fill="#2f73b5" />
<text transform="translate(308.00,397.40) scale(1,1.07)" font-size="7.5" text-anchor="start" fill="#231f20"  >Brainstem</text>
<rect x="299.80" y="401.30" width="3.80" height="3.80" fill="#1f8f8a" />
<text transform="translate(308.00,406.10) scale(1,1.07)" font-size="7.5" text-anchor="start" fill="#231f20"  >Spinal cord</text>
<text transform="translate(363.00,377.50) scale(1,1.07)" font-size="7.5" text-anchor="start" fill="#000" font-weight="bold" >HISTONE</text>
<rect x="366.00" y="383.20" width="3.80" height="3.80" fill="#f07b57" />
<text transform="translate(372.70,387.70) scale(1,1.07)" font-size="7.4" text-anchor="start" fill="#231f20"  >H3.3</text>
<rect x="366.00" y="392.80" width="3.80" height="3.80" fill="#5b9bc8" />
<text transform="translate(372.70,397.30) scale(1,1.07)" font-size="7.4" text-anchor="start" fill="#231f20"  >H3.1</text>
<text transform="translate(0.60,439.80) scale(1,1.07)" font-size="10.2" text-anchor="start" fill="#000" font-weight="bold" >B</text>
<text transform="translate(6.90,450.60) scale(1,1.07)" font-size="6.6" text-anchor="start" fill="#231f20"  >Responders</text>
<text transform="translate(2.00,589.50) scale(1,1.07)" font-size="6.6" text-anchor="start" fill="#231f20"  >Nonresponders</text>
<g fill="#5a3f96" stroke="#5a3f96" transform="translate(24.90,456.90)"><circle cx="0" cy="0" r="2.15" stroke="none"/><path d="M-2.4,3.0 L2.4,3.0 L2.4,9.8 L-2.4,9.8 Z" stroke="none"/><path d="M-2.0,3.6 L-5.3,7.5 M2.0,3.6 L5.3,7.5" fill="none" stroke-width="1.5" stroke-linecap="round"/><path d="M-1.25,9.0 L-1.25,16.2 M1.25,9.0 L1.25,16.2" fill="none" stroke-width="1.6" stroke-linecap="round"/></g>
<g fill="#7b68ad" stroke="#7b68ad" transform="translate(24.90,478.25)"><circle cx="0" cy="0" r="2.15" stroke="none"/><path d="M-2.4,3.0 L2.4,3.0 L2.4,9.8 L-2.4,9.8 Z" stroke="none"/><path d="M-2.0,3.6 L-5.3,7.5 M2.0,3.6 L5.3,7.5" fill="none" stroke-width="1.5" stroke-linecap="round"/><path d="M-1.25,9.0 L-1.25,16.2 M1.25,9.0 L1.25,16.2" fill="none" stroke-width="1.6" stroke-linecap="round"/></g>
<g fill="#a597c4" stroke="#a597c4" transform="translate(24.90,499.60)"><circle cx="0" cy="0" r="2.15" stroke="none"/><path d="M-2.4,3.0 L2.4,3.0 L2.4,9.8 L-2.4,9.8 Z" stroke="none"/><path d="M-2.0,3.6 L-5.3,7.5 M2.0,3.6 L5.3,7.5" fill="none" stroke-width="1.5" stroke-linecap="round"/><path d="M-1.25,9.0 L-1.25,16.2 M1.25,9.0 L1.25,16.2" fill="none" stroke-width="1.6" stroke-linecap="round"/></g>
<g fill="#bdd0ea" stroke="#bdd0ea" transform="translate(24.90,520.95)"><circle cx="0" cy="0" r="2.15" stroke="none"/><path d="M-2.4,3.0 L2.4,3.0 L2.4,9.8 L-2.4,9.8 Z" stroke="none"/><path d="M-2.0,3.6 L-5.3,7.5 M2.0,3.6 L5.3,7.5" fill="none" stroke-width="1.5" stroke-linecap="round"/><path d="M-1.25,9.0 L-1.25,16.2 M1.25,9.0 L1.25,16.2" fill="none" stroke-width="1.6" stroke-linecap="round"/></g>
<g fill="#8daedb" stroke="#8daedb" transform="translate(24.90,542.30)"><circle cx="0" cy="0" r="2.15" stroke="none"/><path d="M-2.4,3.0 L2.4,3.0 L2.4,9.8 L-2.4,9.8 Z" stroke="none"/><path d="M-2.0,3.6 L-5.3,7.5 M2.0,3.6 L5.3,7.5" fill="none" stroke-width="1.5" stroke-linecap="round"/><path d="M-1.25,9.0 L-1.25,16.2 M1.25,9.0 L1.25,16.2" fill="none" stroke-width="1.6" stroke-linecap="round"/></g>
<g fill="#6f9ccd" stroke="#6f9ccd" transform="translate(24.90,563.65)"><circle cx="0" cy="0" r="2.15" stroke="none"/><path d="M-2.4,3.0 L2.4,3.0 L2.4,9.8 L-2.4,9.8 Z" stroke="none"/><path d="M-2.0,3.6 L-5.3,7.5 M2.0,3.6 L5.3,7.5" fill="none" stroke-width="1.5" stroke-linecap="round"/><path d="M-1.25,9.0 L-1.25,16.2 M1.25,9.0 L1.25,16.2" fill="none" stroke-width="1.6" stroke-linecap="round"/></g>
<rect x="170.5" y="451.4" width="114.10000000000002" height="135.10000000000002" fill="none" stroke="#3a3a3a" stroke-width="0.9"/>
<rect x="227.45" y="454.25" width="42.50" height="4.70" fill="#6a4fa8" />
<line x1="168.30" y1="456.60" x2="170.50" y2="456.60" stroke="#3a3a3a" stroke-width="0.9"/>
<text transform="translate(166.00,459.10) scale(1,1.07)" font-size="7.0" text-anchor="end" fill="#231f20"  >Steroid biosynthesis</text>
<rect x="227.45" y="462.05" width="39.94" height="4.70" fill="#6a4fa8" />
<line x1="168.30" y1="464.40" x2="170.50" y2="464.40" stroke="#3a3a3a" stroke-width="0.9"/>
<text transform="translate(166.00,466.90) scale(1,1.07)" font-size="7.0" text-anchor="end" fill="#231f20"  >Ubiquitin mediated proteolysis</text>
<rect x="227.45" y="469.85" width="26.24" height="4.70" fill="#6a4fa8" />
<line x1="168.30" y1="472.20" x2="170.50" y2="472.20" stroke="#3a3a3a" stroke-width="0.9"/>
<text transform="translate(166.00,474.70) scale(1,1.07)" font-size="7.0" text-anchor="end" fill="#231f20"  >Terpenoid backbone biosynthesis</text>
<rect x="227.45" y="477.65" width="26.24" height="4.70" fill="#6a4fa8" />
<line x1="168.30" y1="480.00" x2="170.50" y2="480.00" stroke="#3a3a3a" stroke-width="0.9"/>
<text transform="translate(166.00,482.50) scale(1,1.07)" font-size="7.0" text-anchor="end" fill="#231f20"  >Spliceosome</text>
<rect x="227.45" y="485.45" width="20.54" height="4.70" fill="#6a4fa8" />
<line x1="168.30" y1="487.80" x2="170.50" y2="487.80" stroke="#3a3a3a" stroke-width="0.9"/>
<text transform="translate(166.00,490.30) scale(1,1.07)" font-size="7.0" text-anchor="end" fill="#231f20"  >GPI-anchor biosynthesis</text>
<rect x="227.45" y="493.25" width="20.54" height="4.70" fill="#000" />
<line x1="168.30" y1="495.60" x2="170.50" y2="495.60" stroke="#3a3a3a" stroke-width="0.9"/>
<rect x="227.45" y="501.05" width="18.83" height="4.70" fill="#e2202a" />
<line x1="168.30" y1="503.40" x2="170.50" y2="503.40" stroke="#3a3a3a" stroke-width="0.9"/>
<rect x="227.45" y="508.85" width="17.69" height="4.70" fill="#6a4fa8" />
<line x1="168.30" y1="511.20" x2="170.50" y2="511.20" stroke="#3a3a3a" stroke-width="0.9"/>
<text transform="translate(166.00,513.70) scale(1,1.07)" font-size="7.0" text-anchor="end" fill="#231f20"  >Lysosome</text>
<rect x="227.45" y="516.65" width="16.54" height="4.70" fill="#6a4fa8" />
<line x1="168.30" y1="519.00" x2="170.50" y2="519.00" stroke="#3a3a3a" stroke-width="0.9"/>
<text transform="translate(166.00,521.50) scale(1,1.07)" font-size="7.0" text-anchor="end" fill="#231f20"  >Aminoacyl-tRNA biosynthesis</text>
<rect x="227.45" y="524.45" width="15.40" height="4.70" fill="#6a4fa8" />
<line x1="168.30" y1="526.80" x2="170.50" y2="526.80" stroke="#3a3a3a" stroke-width="0.9"/>
<text transform="translate(166.00,529.30) scale(1,1.07)" font-size="7.0" text-anchor="end" fill="#231f20"  >Adherens junction</text>
<rect x="211.76" y="532.25" width="15.69" height="4.70" fill="#7da4d8" />
<line x1="168.30" y1="534.60" x2="170.50" y2="534.60" stroke="#3a3a3a" stroke-width="0.9"/>
<text transform="translate(166.00,537.10) scale(1,1.07)" font-size="7.0" text-anchor="end" fill="#231f20"  >Calcium signaling pathway</text>
<rect x="211.76" y="540.05" width="15.69" height="4.70" fill="#7da4d8" />
<line x1="168.30" y1="542.40" x2="170.50" y2="542.40" stroke="#3a3a3a" stroke-width="0.9"/>
<text transform="translate(166.00,544.90) scale(1,1.07)" font-size="7.0" text-anchor="end" fill="#231f20"  >Complement and coagulation cascades</text>
<rect x="208.62" y="547.85" width="18.83" height="4.70" fill="#7da4d8" />
<line x1="168.30" y1="550.20" x2="170.50" y2="550.20" stroke="#3a3a3a" stroke-width="0.9"/>
<text transform="translate(166.00,552.70) scale(1,1.07)" font-size="7.0" text-anchor="end" fill="#231f20"  >MAPK signaling pathway</text>
<rect x="208.05" y="555.65" width="19.40" height="4.70" fill="#7da4d8" />
<line x1="168.30" y1="558.00" x2="170.50" y2="558.00" stroke="#3a3a3a" stroke-width="0.9"/>
<text transform="translate(166.00,560.50) scale(1,1.07)" font-size="7.0" text-anchor="end" fill="#231f20"  >T-cell receptor signaling pathway</text>
<rect x="207.20" y="563.45" width="20.25" height="4.70" fill="#7da4d8" />
<line x1="168.30" y1="565.80" x2="170.50" y2="565.80" stroke="#3a3a3a" stroke-width="0.9"/>
<text transform="translate(166.00,568.30) scale(1,1.07)" font-size="7.0" text-anchor="end" fill="#231f20"  >Pathways in cancer</text>
<rect x="202.52" y="571.25" width="24.93" height="4.70" fill="#7da4d8" />
<line x1="168.30" y1="573.60" x2="170.50" y2="573.60" stroke="#3a3a3a" stroke-width="0.9"/>
<text transform="translate(166.00,576.10) scale(1,1.07)" font-size="7.0" text-anchor="end" fill="#231f20"  >Neuroactive ligandreceptor interaction</text>
<rect x="200.18" y="579.05" width="27.27" height="4.70" fill="#7da4d8" />
<line x1="168.30" y1="581.40" x2="170.50" y2="581.40" stroke="#3a3a3a" stroke-width="0.9"/>
<text transform="translate(166.00,583.90) scale(1,1.07)" font-size="7.0" text-anchor="end" fill="#231f20"  >ABC transporters</text>
<line x1="227.45" y1="451.40" x2="227.45" y2="586.50" stroke="#1e1e4a" stroke-width="0.9"/>
<text transform="translate(250.40,497.90) scale(1,1.07)" font-size="5.65" text-anchor="start" fill="#231f20"  style="stroke-width:0.12px">OXPHOS</text>
<text transform="translate(249.60,505.70) scale(1,1.07)" font-size="5.6" text-anchor="start" fill="#231f20"  style="stroke-width:0.12px">TCA cycle</text>
<line x1="170.40" y1="586.50" x2="170.40" y2="589.20" stroke="#3a3a3a" stroke-width="0.9"/>
<text transform="translate(170.40,597.70) scale(1,1.07)" font-size="7.6" text-anchor="middle" fill="#231f20"  >−10</text>
<line x1="198.92" y1="586.50" x2="198.92" y2="589.20" stroke="#3a3a3a" stroke-width="0.9"/>
<text transform="translate(198.92,597.70) scale(1,1.07)" font-size="7.6" text-anchor="middle" fill="#231f20"  >−5</text>
<line x1="227.45" y1="586.50" x2="227.45" y2="589.20" stroke="#3a3a3a" stroke-width="0.9"/>
<text transform="translate(227.45,597.70) scale(1,1.07)" font-size="7.6" text-anchor="middle" fill="#231f20"  >0</text>
<line x1="255.97" y1="586.50" x2="255.97" y2="589.20" stroke="#3a3a3a" stroke-width="0.9"/>
<text transform="translate(255.97,597.70) scale(1,1.07)" font-size="7.6" text-anchor="middle" fill="#231f20"  >5</text>
<line x1="284.50" y1="586.50" x2="284.50" y2="589.20" stroke="#3a3a3a" stroke-width="0.9"/>
<text transform="translate(284.50,597.70) scale(1,1.07)" font-size="7.6" text-anchor="middle" fill="#231f20"  >10</text>
<text transform="translate(226.0,606.6) scale(1,1.07)" font-size="7.6" text-anchor="middle" fill="#231f20">−Log<tspan font-size="5" dy="1.8">10</tspan><tspan dy="-1.8" font-style="italic"> P</tspan></text>
<text transform="translate(295.00,445.20) scale(1,1.07)" font-size="10.2" text-anchor="start" fill="#000" font-weight="bold" >C</text>
<line x1="319.20" y1="472.90" x2="319.20" y2="561.90" stroke="#231f20" stroke-width="0.9"/>
<line x1="316.20" y1="472.90" x2="319.20" y2="472.90" stroke="#231f20" stroke-width="0.9"/>
<text transform="translate(314.00,475.80) scale(1,1.07)" font-size="8.0" text-anchor="end" fill="#231f20"  >1.0</text>
<line x1="316.20" y1="495.15" x2="319.20" y2="495.15" stroke="#231f20" stroke-width="0.9"/>
<text transform="translate(314.00,498.05) scale(1,1.07)" font-size="8.0" text-anchor="end" fill="#231f20"  >0.5</text>
<line x1="316.20" y1="517.40" x2="319.20" y2="517.40" stroke="#231f20" stroke-width="0.9"/>
<text transform="translate(314.00,520.30) scale(1,1.07)" font-size="8.0" text-anchor="end" fill="#231f20"  >0.0</text>
<line x1="316.20" y1="539.65" x2="319.20" y2="539.65" stroke="#231f20" stroke-width="0.9"/>
<text transform="translate(314.00,542.55) scale(1,1.07)" font-size="8.0" text-anchor="end" fill="#231f20"  >−0.5</text>
<line x1="316.20" y1="561.90" x2="319.20" y2="561.90" stroke="#231f20" stroke-width="0.9"/>
<text transform="translate(314.00,564.80) scale(1,1.07)" font-size="8.0" text-anchor="end" fill="#231f20"  >−1.0</text>
<text transform="translate(297.3,518.0) rotate(-90) scale(1,1.07)" font-size="7.2" text-anchor="middle" fill="#231f20">Spearman R</text>
<rect x="323.10" y="486.25" width="7.10" height="31.15" fill="#e31d26" />
<rect x="334.00" y="488.03" width="7.10" height="29.37" fill="#6a4fa8" />
<rect x="344.90" y="489.36" width="7.10" height="28.04" fill="#000" />
<rect x="355.80" y="491.59" width="7.10" height="25.81" fill="#000" />
<rect x="366.70" y="491.59" width="7.10" height="25.81" fill="#e31d26" />
<rect x="377.60" y="492.48" width="7.10" height="24.92" fill="#000" />
<rect x="388.50" y="492.92" width="7.10" height="24.48" fill="#e31d26" />
<rect x="399.40" y="493.81" width="7.10" height="23.59" fill="#e31d26" />
<rect x="410.30" y="495.15" width="7.10" height="22.25" fill="#6a4fa8" />
<rect x="421.20" y="517.40" width="7.10" height="23.59" fill="#7da4d8" />
<rect x="432.10" y="517.40" width="7.10" height="24.03" fill="#7da4d8" />
<rect x="443.00" y="517.40" width="7.10" height="24.48" fill="#7da4d8" />
<rect x="453.90" y="517.40" width="7.10" height="25.36" fill="#7da4d8" />
<rect x="464.80" y="517.40" width="7.10" height="25.81" fill="#7da4d8" />
<rect x="475.70" y="517.40" width="7.10" height="26.70" fill="#7da4d8" />
<rect x="486.60" y="517.40" width="7.10" height="27.14" fill="#7da4d8" />
<rect x="497.50" y="517.40" width="7.10" height="28.04" fill="#7da4d8" />
<rect x="508.40" y="517.40" width="7.10" height="30.26" fill="#7da4d8" />
<line x1="319.20" y1="517.40" x2="520.00" y2="517.40" stroke="#231f20" stroke-width="0.9"/>
<line x1="319.20" y1="561.90" x2="520.00" y2="561.90" stroke="#231f20" stroke-width="0.9"/>
<line x1="326.65" y1="561.90" x2="326.65" y2="565.10" stroke="#231f20" stroke-width="0.9"/>
<text transform="translate(328.25,571.40) rotate(-43) scale(1,1.07)" font-size="7.7" font-style="italic" text-anchor="end" fill="#231f20">PDHB</text>
<line x1="337.55" y1="561.90" x2="337.55" y2="565.10" stroke="#231f20" stroke-width="0.9"/>
<text transform="translate(339.15,571.40) rotate(-43) scale(1,1.07)" font-size="7.7" font-style="italic" text-anchor="end" fill="#231f20">DHCR7</text>
<line x1="348.45" y1="561.90" x2="348.45" y2="565.10" stroke="#231f20" stroke-width="0.9"/>
<text transform="translate(350.05,571.40) rotate(-43) scale(1,1.07)" font-size="7.7" font-style="italic" text-anchor="end" fill="#231f20">NDUFAB1</text>
<line x1="359.35" y1="561.90" x2="359.35" y2="565.10" stroke="#231f20" stroke-width="0.9"/>
<text transform="translate(360.95,571.40) rotate(-43) scale(1,1.07)" font-size="7.7" font-style="italic" text-anchor="end" fill="#231f20">COX11</text>
<line x1="370.25" y1="561.90" x2="370.25" y2="565.10" stroke="#231f20" stroke-width="0.9"/>
<text transform="translate(371.85,571.40) rotate(-43) scale(1,1.07)" font-size="7.7" font-style="italic" text-anchor="end" fill="#231f20">SDHB</text>
<line x1="381.15" y1="561.90" x2="381.15" y2="565.10" stroke="#231f20" stroke-width="0.9"/>
<text transform="translate(382.75,571.40) rotate(-43) scale(1,1.07)" font-size="7.7" font-style="italic" text-anchor="end" fill="#231f20">SC5D</text>
<line x1="392.05" y1="561.90" x2="392.05" y2="565.10" stroke="#231f20" stroke-width="0.9"/>
<text transform="translate(393.65,571.40) rotate(-43) scale(1,1.07)" font-size="7.7" font-style="italic" text-anchor="end" fill="#231f20">FH</text>
<line x1="402.95" y1="561.90" x2="402.95" y2="565.10" stroke="#231f20" stroke-width="0.9"/>
<text transform="translate(404.55,571.40) rotate(-43) scale(1,1.07)" font-size="7.7" font-style="italic" text-anchor="end" fill="#231f20">ACLY</text>
<line x1="413.85" y1="561.90" x2="413.85" y2="565.10" stroke="#231f20" stroke-width="0.9"/>
<text transform="translate(415.45,571.40) rotate(-43) scale(1,1.07)" font-size="7.7" font-style="italic" text-anchor="end" fill="#231f20">NDUFA6</text>
<line x1="424.75" y1="561.90" x2="424.75" y2="565.10" stroke="#231f20" stroke-width="0.9"/>
<text transform="translate(426.35,571.40) rotate(-43) scale(1,1.07)" font-size="7.7" font-style="italic" text-anchor="end" fill="#231f20">CD247</text>
<line x1="435.65" y1="561.90" x2="435.65" y2="565.10" stroke="#231f20" stroke-width="0.9"/>
<text transform="translate(437.25,571.40) rotate(-43) scale(1,1.07)" font-size="7.7" font-style="italic" text-anchor="end" fill="#231f20">ABCA7</text>
<line x1="446.55" y1="561.90" x2="446.55" y2="565.10" stroke="#231f20" stroke-width="0.9"/>
<text transform="translate(448.15,571.40) rotate(-43) scale(1,1.07)" font-size="7.7" font-style="italic" text-anchor="end" fill="#231f20">APC</text>
<line x1="457.45" y1="561.90" x2="457.45" y2="565.10" stroke="#231f20" stroke-width="0.9"/>
<text transform="translate(459.05,571.40) rotate(-43) scale(1,1.07)" font-size="7.7" font-style="italic" text-anchor="end" fill="#231f20">CD28</text>
<line x1="468.35" y1="561.90" x2="468.35" y2="565.10" stroke="#231f20" stroke-width="0.9"/>
<text transform="translate(469.95,571.40) rotate(-43) scale(1,1.07)" font-size="7.7" font-style="italic" text-anchor="end" fill="#231f20">WNT10B</text>
<line x1="479.25" y1="561.90" x2="479.25" y2="565.10" stroke="#231f20" stroke-width="0.9"/>
<text transform="translate(480.85,571.40) rotate(-43) scale(1,1.07)" font-size="7.7" font-style="italic" text-anchor="end" fill="#231f20">GRIN1</text>
<line x1="490.15" y1="561.90" x2="490.15" y2="565.10" stroke="#231f20" stroke-width="0.9"/>
<text transform="translate(491.75,571.40) rotate(-43) scale(1,1.07)" font-size="7.7" font-style="italic" text-anchor="end" fill="#231f20">OPRM1</text>
<line x1="501.05" y1="561.90" x2="501.05" y2="565.10" stroke="#231f20" stroke-width="0.9"/>
<text transform="translate(502.65,571.40) rotate(-43) scale(1,1.07)" font-size="7.7" font-style="italic" text-anchor="end" fill="#231f20">ABCA6</text>
<line x1="511.95" y1="561.90" x2="511.95" y2="565.10" stroke="#231f20" stroke-width="0.9"/>
<text transform="translate(513.55,571.40) rotate(-43) scale(1,1.07)" font-size="7.7" font-style="italic" text-anchor="end" fill="#231f20">GLI3</text>
<rect x="324.50" y="537.50" width="6.00" height="5.80" fill="#e31d26" />
<text transform="translate(333.00,543.20) scale(1,1.07)" font-size="7.65" text-anchor="start" fill="#231f20"  >TCA cycle</text>
<rect x="324.50" y="549.20" width="6.00" height="5.80" fill="#000" />
<text transform="translate(333.00,554.90) scale(1,1.07)" font-size="7.5" text-anchor="start" fill="#231f20"  >OXPHOS</text>
</svg>
</body></html>
